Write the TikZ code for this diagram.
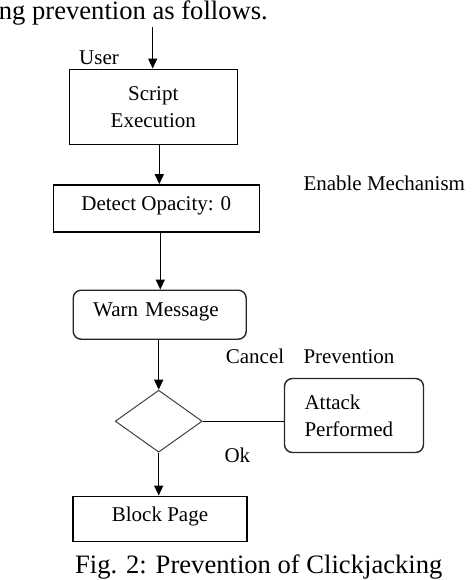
\documentclass[tikz,border=0pt]{standalone}
\usepackage{fontspec}
\setmainfont{Liberation Serif}
\usetikzlibrary{arrows.meta,shapes.geometric}
\begin{document}
\begin{tikzpicture}[x=1pt,y=-1pt,
  txt/.style={font=\fontsize{21}{26.8}\selectfont, inner sep=0pt},
  box/.style={draw, line width=1.5pt, txt, align=center},
  rbox/.style={draw=black!85, line width=1.4pt, txt, rounded corners=8pt, align=left, inner xsep=20pt},
  arr/.style={line width=1.4pt, -{Triangle[length=10pt,width=9pt]}},
  lbl/.style={txt, anchor=base west},
  big/.style={font=\fontsize{26.6}{30}\selectfont, inner sep=0pt}]
\useasboundingbox (0,0) rectangle (474,580);
\node[big, anchor=base east] (intro) at (268,20) {ng prevention as follows.};
\node[box, minimum width=168pt, minimum height=75pt] (script) at (153.3,106.8) {Script\\Execution};
\node[box, minimum width=206pt, minimum height=47pt, text height=0.7em, text depth=0.25em] (detect) at (156.3,208.4) {Detect Opacity: 0};
\node[rbox, text width=133pt, minimum height=49pt, text height=0.7em, text depth=0.25em] (warn) at (159.7,314.7) {Warn Message};
\node[draw=black!75, line width=1pt, diamond, minimum width=87pt, minimum height=62pt, inner sep=0pt, aspect=1.4] (dec) at (158.7,421.2) {};
\node[rbox, text width=99pt, minimum height=74pt] (attack) at (354,415.5) {Attack\\Performed};
\node[box, minimum width=174pt, minimum height=45pt, text height=0.7em, text depth=0.25em] (block) at (160,518.8) {Block Page};
\node[lbl] (user) at (79,65) {User};
\node[lbl] (enable) at (303.3,190) {Enable Mechanism};
\node[lbl] (cancel) at (225.7,363.3) {Cancel};
\node[lbl] (prev) at (303.3,363.3) {Prevention};
\node[lbl] (ok) at (224.3,462.3) {Ok};
\node[big, anchor=base west] (caption) at (75,573.3) {Fig. 2: Prevention of Clickjacking};
\coordinate (c0) at (152.7,27);
\coordinate (c1) at (159.3,0);
\coordinate (c2) at (160.3,0);
\draw[arr] (c0) -- (script.north -| c0);
\draw[arr] (script.south -| c1) -- (detect.north -| c1);
\draw[arr] (detect.south -| c2) -- (warn.north -| c2);
\draw[arr] (warn.south -| dec.north) -- (dec.north);
\draw[arr] (dec.south) -- (block.north -| dec.south);
\draw[line width=1pt] (dec.east) -- (dec.east -| attack.west);
\end{tikzpicture}
\end{document}
